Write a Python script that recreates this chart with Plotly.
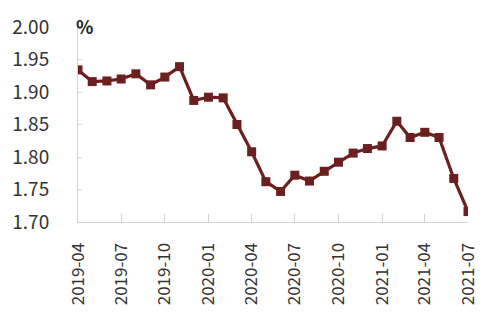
import plotly.graph_objects as go

months = ["2019-04", "2019-05", "2019-06", "2019-07", "2019-08", "2019-09", "2019-10",
          "2019-11", "2019-12", "2020-01", "2020-02", "2020-03", "2020-04", "2020-05",
          "2020-06", "2020-07", "2020-08", "2020-09", "2020-10", "2020-11", "2020-12",
          "2021-01", "2021-02", "2021-03", "2021-04", "2021-05", "2021-06", "2021-07"]
values = [1.934, 1.916, 1.917, 1.920, 1.928, 1.911, 1.923,
          1.939, 1.887, 1.892, 1.891, 1.850, 1.808, 1.762,
          1.747, 1.772, 1.763, 1.778, 1.792, 1.806, 1.813,
          1.817, 1.855, 1.830, 1.838, 1.830, 1.767, 1.716]
y_ticks = [1.70, 1.75, 1.80, 1.85, 1.90, 1.95, 2.00]

dates = [m + "-01" for m in months]
font = "Noto Sans CJK SC"
color = "#6b1f1f"

fig = go.Figure(go.Scatter(
    x=dates, y=values, mode="lines+markers",
    line=dict(color=color, width=3.2),
    marker=dict(symbol="square", size=9, color=color),
))

fig.update_layout(
    width=500, height=317,
    margin=dict(l=74, r=32, t=17, b=89),
    paper_bgcolor="white", plot_bgcolor="white",
    showlegend=False,
    font=dict(family=font, color="#333333"),
    annotations=[dict(text="<b>%</b>", x=0.0, y=1.0, xref="paper", yref="paper",
                      xanchor="left", yanchor="middle", xshift=-4, yshift=1,
                      showarrow=False, font=dict(size=18, family=font, color="#222222"))],
)
fig.update_xaxes(
    type="date", range=["2019-04-01", "2021-07-01"],
    tickvals=dates[::3], ticktext=months[::3],
    tickangle=-90, tickfont=dict(size=17, family=font, color="#333333"),
    showgrid=False, zeroline=False,
    showline=True, linecolor="#d0d0d0", linewidth=1,
    ticks="inside", ticklen=8, tickcolor="#d0d0d0",
    ticklabelstandoff=13,
)
fig.update_yaxes(
    range=[1.70, 2.00], tickvals=y_ticks, ticktext=[f"{v:.2f}" for v in y_ticks],
    tickfont=dict(size=19, family=font, color="#333333"),
    showgrid=False, zeroline=False,
    showline=True, linecolor="#d0d0d0", linewidth=1,
    ticks="inside", ticklen=4, tickcolor="#e0e0e0",
    ticklabelstandoff=24,
)

fig.write_html("out.html")
